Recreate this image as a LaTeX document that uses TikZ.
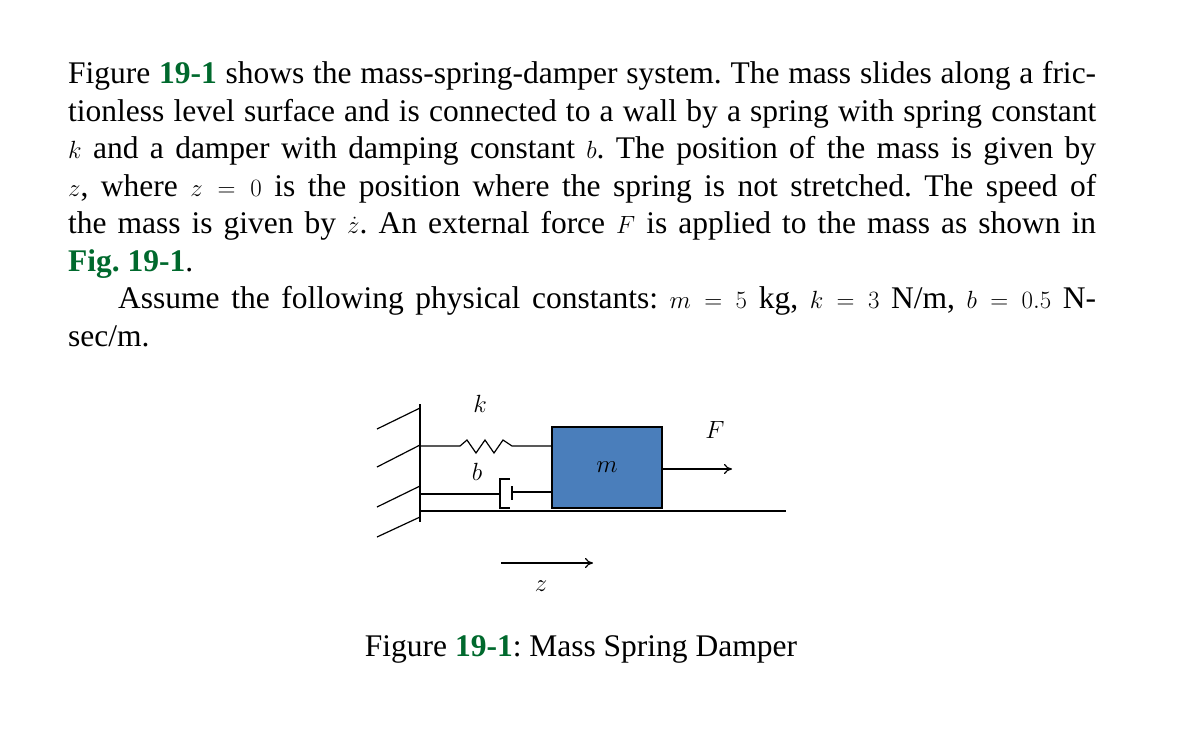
\documentclass[tikz,border=0pt]{standalone}
\usepackage{fontspec}
\setmainfont{Liberation Serif}
\usetikzlibrary{arrows.meta}
\definecolor{refgreen}{RGB}{0,105,45}
\definecolor{massblue}{RGB}{74,126,187}
\newcommand{\rf}[1]{\textcolor{refgreen}{\textbf{#1}}}
\newcommand{\jl}[1]{\hbox to 1028pt{#1}}
\begin{document}
\begin{tikzpicture}[x=1pt,y=-1pt,
  txt/.style={anchor=base west,inner sep=0pt,font=\fontsize{31.5}{37}\selectfont\frenchspacing},
  lbl/.style={inner sep=0pt,font=\fontsize{32}{38}\selectfont},
  ln/.style={line width=1.2pt},
  arr/.style={line width=1.2pt,-{To[length=8pt,width=10pt]}}]
\useasboundingbox (0,0) rectangle (1180,732);
\node[txt] (l1) at (68,83) {\jl{Figure \rf{19-1} shows the mass-spring-damper system. The mass slides along a fric-}};
\node[txt] (l2) at (68,121) {\jl{tionless level surface and is connected to a wall by a spring with spring constant}};
\node[txt] (l3) at (68,158) {\jl{$k$ and a damper with damping constant $b$. The position of the mass is given by}};
\node[txt] (l4) at (68,196) {\jl{$z$, where $z=0$ is the position where the spring is not stretched. The speed of}};
\node[txt] (l5) at (68,233) {\jl{the mass is given by $\dot z$. An external force $F$ is applied to the mass as shown in}};
\node[txt] (l6) at (68,271) {\rf{Fig. 19-1}.};
\node[txt] (l7) at (118,308) {\hbox to 978pt{Assume the following physical constants: $m=5$ kg, $k=3$ N/m, $b=0.5$ N-}};
\node[txt] (l8) at (68,346) {sec/m.};
\node[txt,anchor=base] (cap) at (581,656) {Figure \rf{19-1}: Mass Spring Damper};
% wall
\coordinate (wt) at (420,404); \coordinate (wb) at (420,522);
\draw[ln] (wt) -- (wb);
\draw[ln] (377,429) -- (420,408);
\draw[ln] (377,467) -- (420,445);
\draw[ln] (377,507) -- (420,486);
\draw[ln] (377,537) -- (420,517);
\coordinate (f1) at (420,511); \coordinate (f2) at (786,511);
\draw[ln] (f1) -- (f2);
% mass
\node[draw,ln,fill=massblue,minimum width=110pt,minimum height=81pt,inner sep=0pt,
  font=\fontsize{32}{38}\selectfont] (m) at (607,467.5) {$m$};
% spring
\draw[ln] (420,446) -- (460,446) -- (467,440) -- (476,453) -- (485,440) -- (494,453) -- (503,440) -- (512,446) -- (m.west |- 0,446);
% damper
\draw[ln] (420,494) -- (500,494);
\draw[ln] (510,479) -- (500,479) -- (500,508) -- (510,508);
\draw[ln] (512,486) -- (512,500);
\draw[ln] (512,492) -- (m.west |- 0,492);
% force
\coordinate (fe) at (732,469);
\draw[arr] (m.east |- fe) -- (fe);
\node[lbl] (F) at (715,430) {$F$};
\coordinate (z1) at (501,563); \coordinate (z2) at (593,563);
\draw[arr] (z1) -- (z2);
\node[lbl] (z) at (541,586) {$z$};
\node[lbl] (k) at (480,404) {$k$};
\node[lbl] (b) at (477,472) {$b$};
\end{tikzpicture}
\end{document}
